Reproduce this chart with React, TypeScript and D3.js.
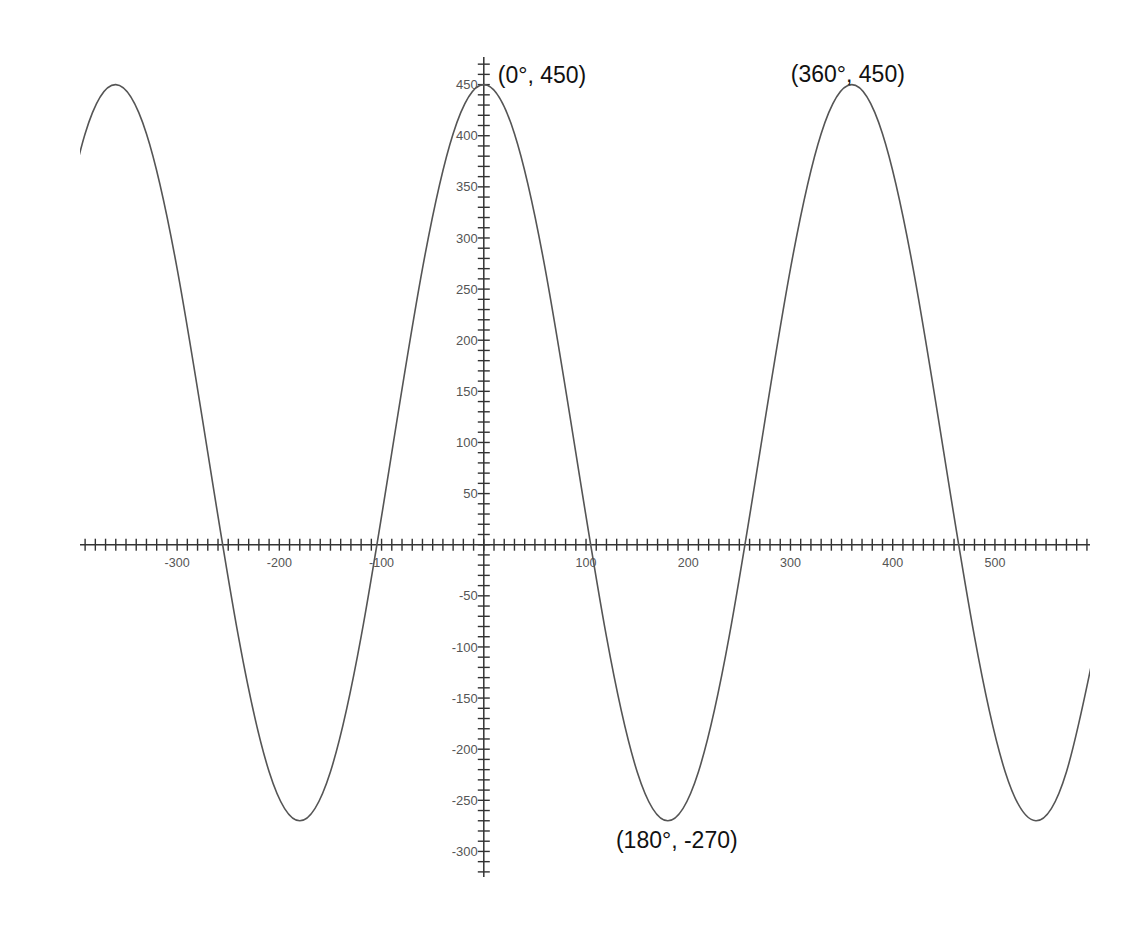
import React, { useRef, useEffect } from "react";
import * as d3 from "d3";

// angle (degrees) and value, every 30 degrees
const angles = [
  -420, -390, -360, -330, -300, -270, -240, -210, -180, -150, -120, -90, -60, -30,
  0, 30, 60, 90, 120, 150, 180, 210, 240, 270, 300, 330, 360, 390, 420, 450, 480,
  510, 540, 570, 600,
];
const values = [
  270, 402, 450, 402, 270, 90, -90, -222, -270, -222, -90, 90, 270, 402,
  450, 402, 270, 90, -90, -222, -270, -222, -90, 90, 270, 402, 450, 402, 270, 90, -90,
  -222, -270, -222, -90,
];

const xTicks = d3.range(-390, 591, 10);
const yTicks = d3.range(-320, 471, 10);
const xLabels = [-300, -200, -100, 100, 200, 300, 400, 500];
const yLabels = [-300, -250, -200, -150, -100, -50, 50, 100, 150, 200, 250, 300, 350, 400, 450];

const notePoints = [
  { x: 0, y: 450, text: "(0°, 450)" },
  { x: 360, y: 450, text: "(360°, 450)" },
  { x: 180, y: -270, text: "(180°, -270)" },
];

const W = 1129;
const H = 945;

export default function App() {
  const ref = useRef<SVGSVGElement | null>(null);

  useEffect(() => {
    if (!ref.current) return;
    const svg = d3.select(ref.current);
    svg.selectAll("*").remove();

    const x = d3.scaleLinear().domain([-395, 593]).range([80, 1090]);
    const y = d3.scaleLinear().domain([477, -325]).range([57, 877]);
    const x0 = x(0);
    const y0 = y(0);
    const axisColor = "#333";

    svg
      .append("defs")
      .append("clipPath")
      .attr("id", "plot-clip")
      .append("rect")
      .attr("x", x(-395))
      .attr("y", 0)
      .attr("width", x(593) - x(-395))
      .attr("height", H);

    // x axis
    svg
      .append("line")
      .attr("x1", x(-395))
      .attr("x2", x(593))
      .attr("y1", y0)
      .attr("y2", y0)
      .attr("stroke", axisColor)
      .attr("stroke-width", 1.5);

    svg
      .append("g")
      .selectAll("line")
      .data(xTicks)
      .join("line")
      .attr("x1", (d) => x(d))
      .attr("x2", (d) => x(d))
      .attr("y1", y0 - 6)
      .attr("y2", y0 + 6)
      .attr("stroke", axisColor)
      .attr("stroke-width", 1.4);

    svg
      .append("g")
      .selectAll("text")
      .data(xLabels)
      .join("text")
      .attr("x", (d) => x(d))
      .attr("y", y0 + 22)
      .attr("text-anchor", "middle")
      .attr("font-family", "Liberation Sans, Arial, sans-serif")
      .attr("font-size", 12.5)
      .attr("fill", "#555")
      .text((d) => d);

    // y axis
    svg
      .append("line")
      .attr("x1", x0)
      .attr("x2", x0)
      .attr("y1", y(477))
      .attr("y2", y(-325))
      .attr("stroke", axisColor)
      .attr("stroke-width", 1.5);

    svg
      .append("g")
      .selectAll("line")
      .data(yTicks)
      .join("line")
      .attr("x1", x0 - 6)
      .attr("x2", x0 + 6)
      .attr("y1", (d) => y(d))
      .attr("y2", (d) => y(d))
      .attr("stroke", axisColor)
      .attr("stroke-width", 1.4);

    svg
      .append("g")
      .selectAll("text")
      .data(yLabels)
      .join("text")
      .attr("x", x0 - 6)
      .attr("y", (d) => y(d))
      .attr("dy", "0.35em")
      .attr("text-anchor", "end")
      .attr("font-family", "Liberation Sans, Arial, sans-serif")
      .attr("font-size", 13)
      .attr("fill", "#555")
      .text((d) => d);

    // curve
    const pts = angles.map((a, i) => [a, values[i]] as [number, number]);
    const line = d3
      .line<[number, number]>()
      .x((d) => x(d[0]))
      .y((d) => y(d[1]))
      .curve(d3.curveNatural);

    svg
      .append("path")
      .attr("d", line(pts))
      .attr("clip-path", "url(#plot-clip)")
      .attr("fill", "none")
      .attr("stroke", "#555")
      .attr("stroke-width", 1.6);

    // point notes
    const offsets = [
      { dx: 14, dy: -2, anchor: "start" },
      { dx: -4, dy: -3, anchor: "middle" },
      { dx: 9, dy: 27, anchor: "middle" },
    ];
    notePoints.forEach((p, i) => {
      svg
        .append("text")
        .attr("x", x(p.x) + offsets[i].dx)
        .attr("y", y(p.y) + offsets[i].dy)
        .attr("text-anchor", offsets[i].anchor)
        .attr("font-family", "Liberation Sans, Arial, sans-serif")
        .attr("font-size", 23)
        .attr("fill", "#111")
        .text(p.text);
    });
  }, []);

  return (
    <svg
      ref={ref}
      width={W}
      height={H}
      style={{ position: "absolute", left: 0, top: 0, background: "#fff" }}
    />
  );
}
